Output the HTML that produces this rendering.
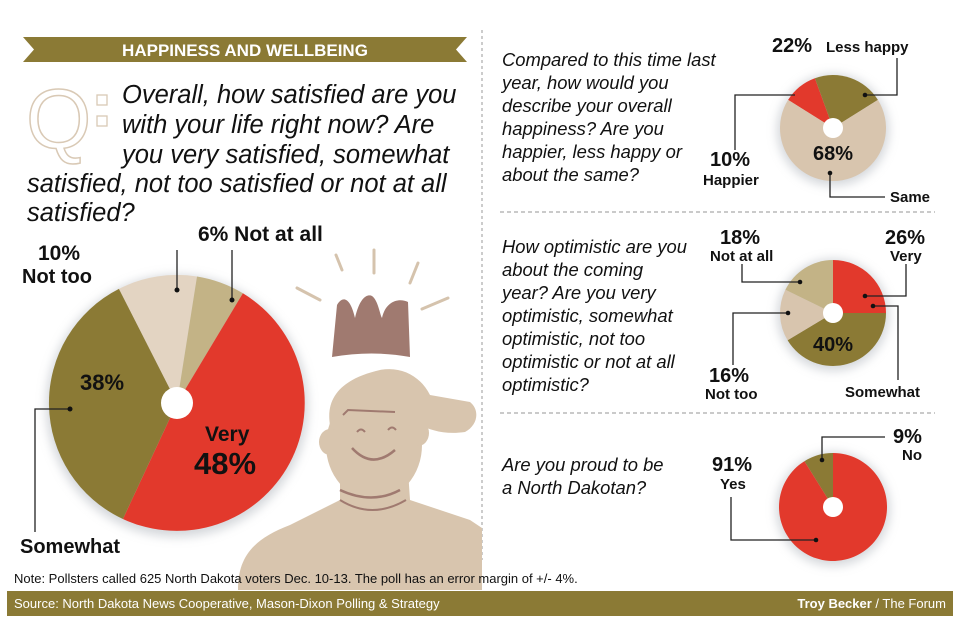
<!DOCTYPE html>
<html><head><meta charset="utf-8"><style>
html,body{margin:0;padding:0;background:#fff}
body{width:960px;height:640px;overflow:hidden;position:relative;font-family:"Liberation Sans",sans-serif}
svg{position:absolute;left:0;top:0}
</style></head><body>
<svg width="960" height="640" viewBox="0 0 960 640" xmlns="http://www.w3.org/2000/svg">
<defs>
<filter id="bl" x="-50%" y="-50%" width="200%" height="200%"><feGaussianBlur stdDeviation="5"/></filter>
</defs>
<path d="M23,37 L467,37 L456,49.5 L467,62 L23,62 L34,49.5 Z" fill="#8b7a35"/>
<text x="245" y="56" text-anchor="middle" font-size="17" font-weight="bold" fill="#fff">HAPPINESS AND WELLBEING</text>
<text x="26" y="148" font-size="84" fill="none" stroke="#d9c9b5" stroke-width="1.5">Q</text>
<rect x="97" y="95" width="10" height="10" fill="none" stroke="#d9c9b5" stroke-width="1.3"/>
<rect x="97" y="116" width="10" height="10" fill="none" stroke="#d9c9b5" stroke-width="1.3"/>
<g font-size="25.5" font-style="italic" fill="#111">
<text x="122" y="103">Overall, how satisfied are you</text>
<text x="122" y="133">with  your life right now? Are</text>
<text x="122" y="163">you very satisfied, somewhat</text>
<text x="27" y="192">satisfied, not too satisfied or not at all</text>
<text x="27" y="221">satisfied?</text>
</g>
<line x1="482" y1="30" x2="482" y2="560" stroke="#999" stroke-width="1" stroke-dasharray="3,3"/>
<line x1="500" y1="212" x2="935" y2="212" stroke="#aaa" stroke-width="1.2" stroke-dasharray="4,3"/>
<line x1="500" y1="413" x2="935" y2="413" stroke="#aaa" stroke-width="1.2" stroke-dasharray="4,3"/>
<g stroke="#d5c3ad" stroke-width="3" stroke-linecap="round">
<line x1="336" y1="255" x2="342" y2="270"/><line x1="374" y1="250" x2="374" y2="273"/><line x1="418" y1="263" x2="410" y2="283"/>
<line x1="297" y1="288" x2="320" y2="300"/><line x1="448" y1="298" x2="422" y2="309"/>
</g>
<path d="M332,357 L337,305 C342,296 350,296 355,318 C360,296 368,294 372,296 C378,300 380,315 382,318 C386,300 400,298 408,302 L410,357 Q372,350 332,357 Z" fill="#a07a70"/>
<path d="M238,590 C238,560 250,540 290,525 L340,500 L340,470 L408,470 L410,500 L470,520 L482,528 L482,590 Z" fill="#d8c5ae"/>
<ellipse cx="374" cy="445" rx="48" ry="55" fill="#d8c5ae"/>
<ellipse cx="330" cy="442" rx="11" ry="13" fill="#d8c5ae"/>
<ellipse cx="418" cy="433" rx="11" ry="13" fill="#d8c5ae"/>
<path d="M330,425 C325,395 345,378 380,370 C400,366 420,375 430,395 L470,402 C480,410 478,425 465,432 C445,435 430,430 420,425 L330,430 Z" fill="#d8c5ae"/>
<path d="M343,415 L348,410 L395,412" stroke="#a07a70" stroke-width="2" fill="none"/>
<path d="M352,448 Q372,470 395,450" stroke="#a07a70" stroke-width="2.5" fill="none"/>
<path d="M340,490 Q372,505 400,490" stroke="#a07a70" stroke-width="2.5" fill="none"/>
<path d="M340,500 Q372,520 406,500" stroke="#a07a70" stroke-width="2" fill="none"/>
<path d="M357,432 q4,-5 8,0 M388,430 q4,-5 8,0" stroke="#a07a70" stroke-width="2" fill="none"/>
<circle cx="177" cy="406" r="131" fill="#aab0b8" opacity="0.5" filter="url(#bl)"/>
<path d="M177,403 L118.9,288.9 A128,128 0 0 1 197,276.5 Z" fill="#e3d4c2"/>
<path d="M177,403 L197,276.5 A128,128 0 0 1 242.9,293.3 Z" fill="#c3b386"/>
<path d="M177,403 L242.9,293.3 A128,128 0 0 1 122.9,519 Z" fill="#e2392c"/>
<path d="M177,403 L122.9,519 A128,128 0 0 1 118.9,288.9 Z" fill="#8b7a35"/>
<circle cx="177" cy="403" r="16" fill="#fff"/>
<g stroke="#222" stroke-width="1.3" fill="none">
<path d="M177,250 L177,290"/><path d="M232,250 L232,300"/><path d="M35,532 L35,409 L70,409"/>
</g>
<g fill="#111"><circle cx="177" cy="290" r="2.5"/><circle cx="232" cy="300" r="2.5"/><circle cx="70" cy="409" r="2.5"/></g>
<g font-weight="bold" fill="#111">
<text x="38" y="260" font-size="21">10%</text>
<text x="22" y="283" font-size="20">Not too</text>
<text x="198" y="241" font-size="21">6% Not at all</text>
<text x="80" y="390" font-size="22">38%</text>
<text x="205" y="441" font-size="21">Very</text>
<text x="194" y="474" font-size="31">48%</text>
<text x="20" y="553" font-size="20">Somewhat</text>
</g>
<g font-size="18.4" font-style="italic" fill="#111">
<text x="502" y="66">Compared to this time last</text>
<text x="502" y="89">year, how would you</text>
<text x="502" y="112">describe your overall</text>
<text x="502" y="135">happiness? Are you</text>
<text x="502" y="158">happier, less happy or</text>
<text x="502" y="181">about the same?</text>
<text x="502" y="253">How optimistic are you</text>
<text x="502" y="276">about the coming</text>
<text x="502" y="299">year? Are you very</text>
<text x="502" y="322">optimistic, somewhat</text>
<text x="502" y="345">optimistic, not too</text>
<text x="502" y="368">optimistic or not at all</text>
<text x="502" y="391">optimistic?</text>
<text x="502" y="471">Are you proud to be</text>
<text x="502" y="494">a North Dakotan?</text>
</g>
<circle cx="833" cy="130" r="56" fill="#aab0b8" opacity="0.5" filter="url(#bl)"/>
<path d="M833,128 L788.1,99.9 A53,53 0 0 1 814.9,78.2 Z" fill="#e2392c"/>
<path d="M833,128 L814.9,78.2 A53,53 0 0 1 877.9,99.9 Z" fill="#8b7a35"/>
<path d="M833,128 L877.9,99.9 A53,53 0 1 1 788.1,99.9 Z" fill="#d8c5ae"/>
<circle cx="833" cy="128" r="10" fill="#fff"/>
<circle cx="833" cy="315" r="56" fill="#aab0b8" opacity="0.5" filter="url(#bl)"/>
<path d="M833,313 L833,260 A53,53 0 0 1 886,313 Z" fill="#e2392c"/>
<path d="M833,313 L886,313 A53,53 0 0 1 787.6,340.3 Z" fill="#8b7a35"/>
<path d="M833,313 L787.6,340.3 A53,53 0 0 1 785.4,289.8 Z" fill="#d8c5ae"/>
<path d="M833,313 L785.4,289.8 A53,53 0 0 1 833,260 Z" fill="#c3b386"/>
<circle cx="833" cy="313" r="10" fill="#fff"/>
<circle cx="833" cy="509" r="57" fill="#aab0b8" opacity="0.5" filter="url(#bl)"/>
<path d="M833,507 L804.4,461.2 A54,54 0 0 1 833,453 Z" fill="#8b7a35"/>
<path d="M833,507 L833,453 A54,54 0 1 1 804.4,461.2 Z" fill="#e2392c"/>
<circle cx="833" cy="507" r="10" fill="#fff"/>
<g stroke="#222" stroke-width="1.3" fill="none">
<path d="M735,150 L735,95 L795,95"/><path d="M897,58 L897,95 L865,95"/><path d="M830,173 L830,197 L885,197"/>
<path d="M742,264 L742,282 L800,282"/><path d="M906,264 L906,296 L865,296"/>
<path d="M733,365 L733,313 L788,313"/><path d="M873,306 L898,306 L898,380"/>
<path d="M885,437 L822,437 L822,460"/><path d="M731,497 L731,540 L816,540"/>
</g>
<g fill="#111">
<circle cx="865" cy="95" r="2.3"/><circle cx="830" cy="173" r="2.3"/><circle cx="800" cy="282" r="2.3"/><circle cx="865" cy="296" r="2.3"/><circle cx="788" cy="313" r="2.3"/><circle cx="873" cy="306" r="2.3"/><circle cx="822" cy="460" r="2.3"/><circle cx="816" cy="540" r="2.3"/>
</g>
<g font-weight="bold" fill="#111">
<text x="772" y="52" font-size="20">22%</text><text x="826" y="52" font-size="15">Less happy</text>
<text x="710" y="166" font-size="20">10%</text><text x="703" y="185" font-size="15">Happier</text>
<text x="813" y="160" font-size="20">68%</text>
<text x="890" y="202" font-size="15">Same</text>
<text x="720" y="244" font-size="20">18%</text><text x="710" y="261" font-size="15">Not at all</text>
<text x="885" y="244" font-size="20">26%</text><text x="890" y="261" font-size="15">Very</text>
<text x="813" y="351" font-size="20">40%</text>
<text x="709" y="382" font-size="20">16%</text><text x="705" y="399" font-size="15">Not too</text>
<text x="845" y="397" font-size="15">Somewhat</text>
<text x="893" y="443" font-size="20">9%</text><text x="902" y="460" font-size="15">No</text>
<text x="712" y="471" font-size="20">91%</text><text x="720" y="489" font-size="15">Yes</text>
</g>
<text x="14" y="583" font-size="13" fill="#111" font-family="'Liberation Sans Narrow','Liberation Sans',sans-serif">Note: Pollsters called 625 North Dakota voters Dec. 10-13. The poll has an error margin of +/- 4%.</text>
<rect x="7" y="591" width="946" height="25" fill="#8b7a35"/>
<text x="14" y="608" font-size="13" fill="#fff" font-family="'Liberation Sans Narrow','Liberation Sans',sans-serif">Source: North Dakota News Cooperative, Mason-Dixon Polling &amp; Strategy</text>
<text x="946" y="608" font-size="13" fill="#fff" text-anchor="end" font-family="'Liberation Sans Narrow','Liberation Sans',sans-serif"><tspan font-weight="bold">Troy Becker</tspan> / The Forum</text>
</svg>
</body></html>
